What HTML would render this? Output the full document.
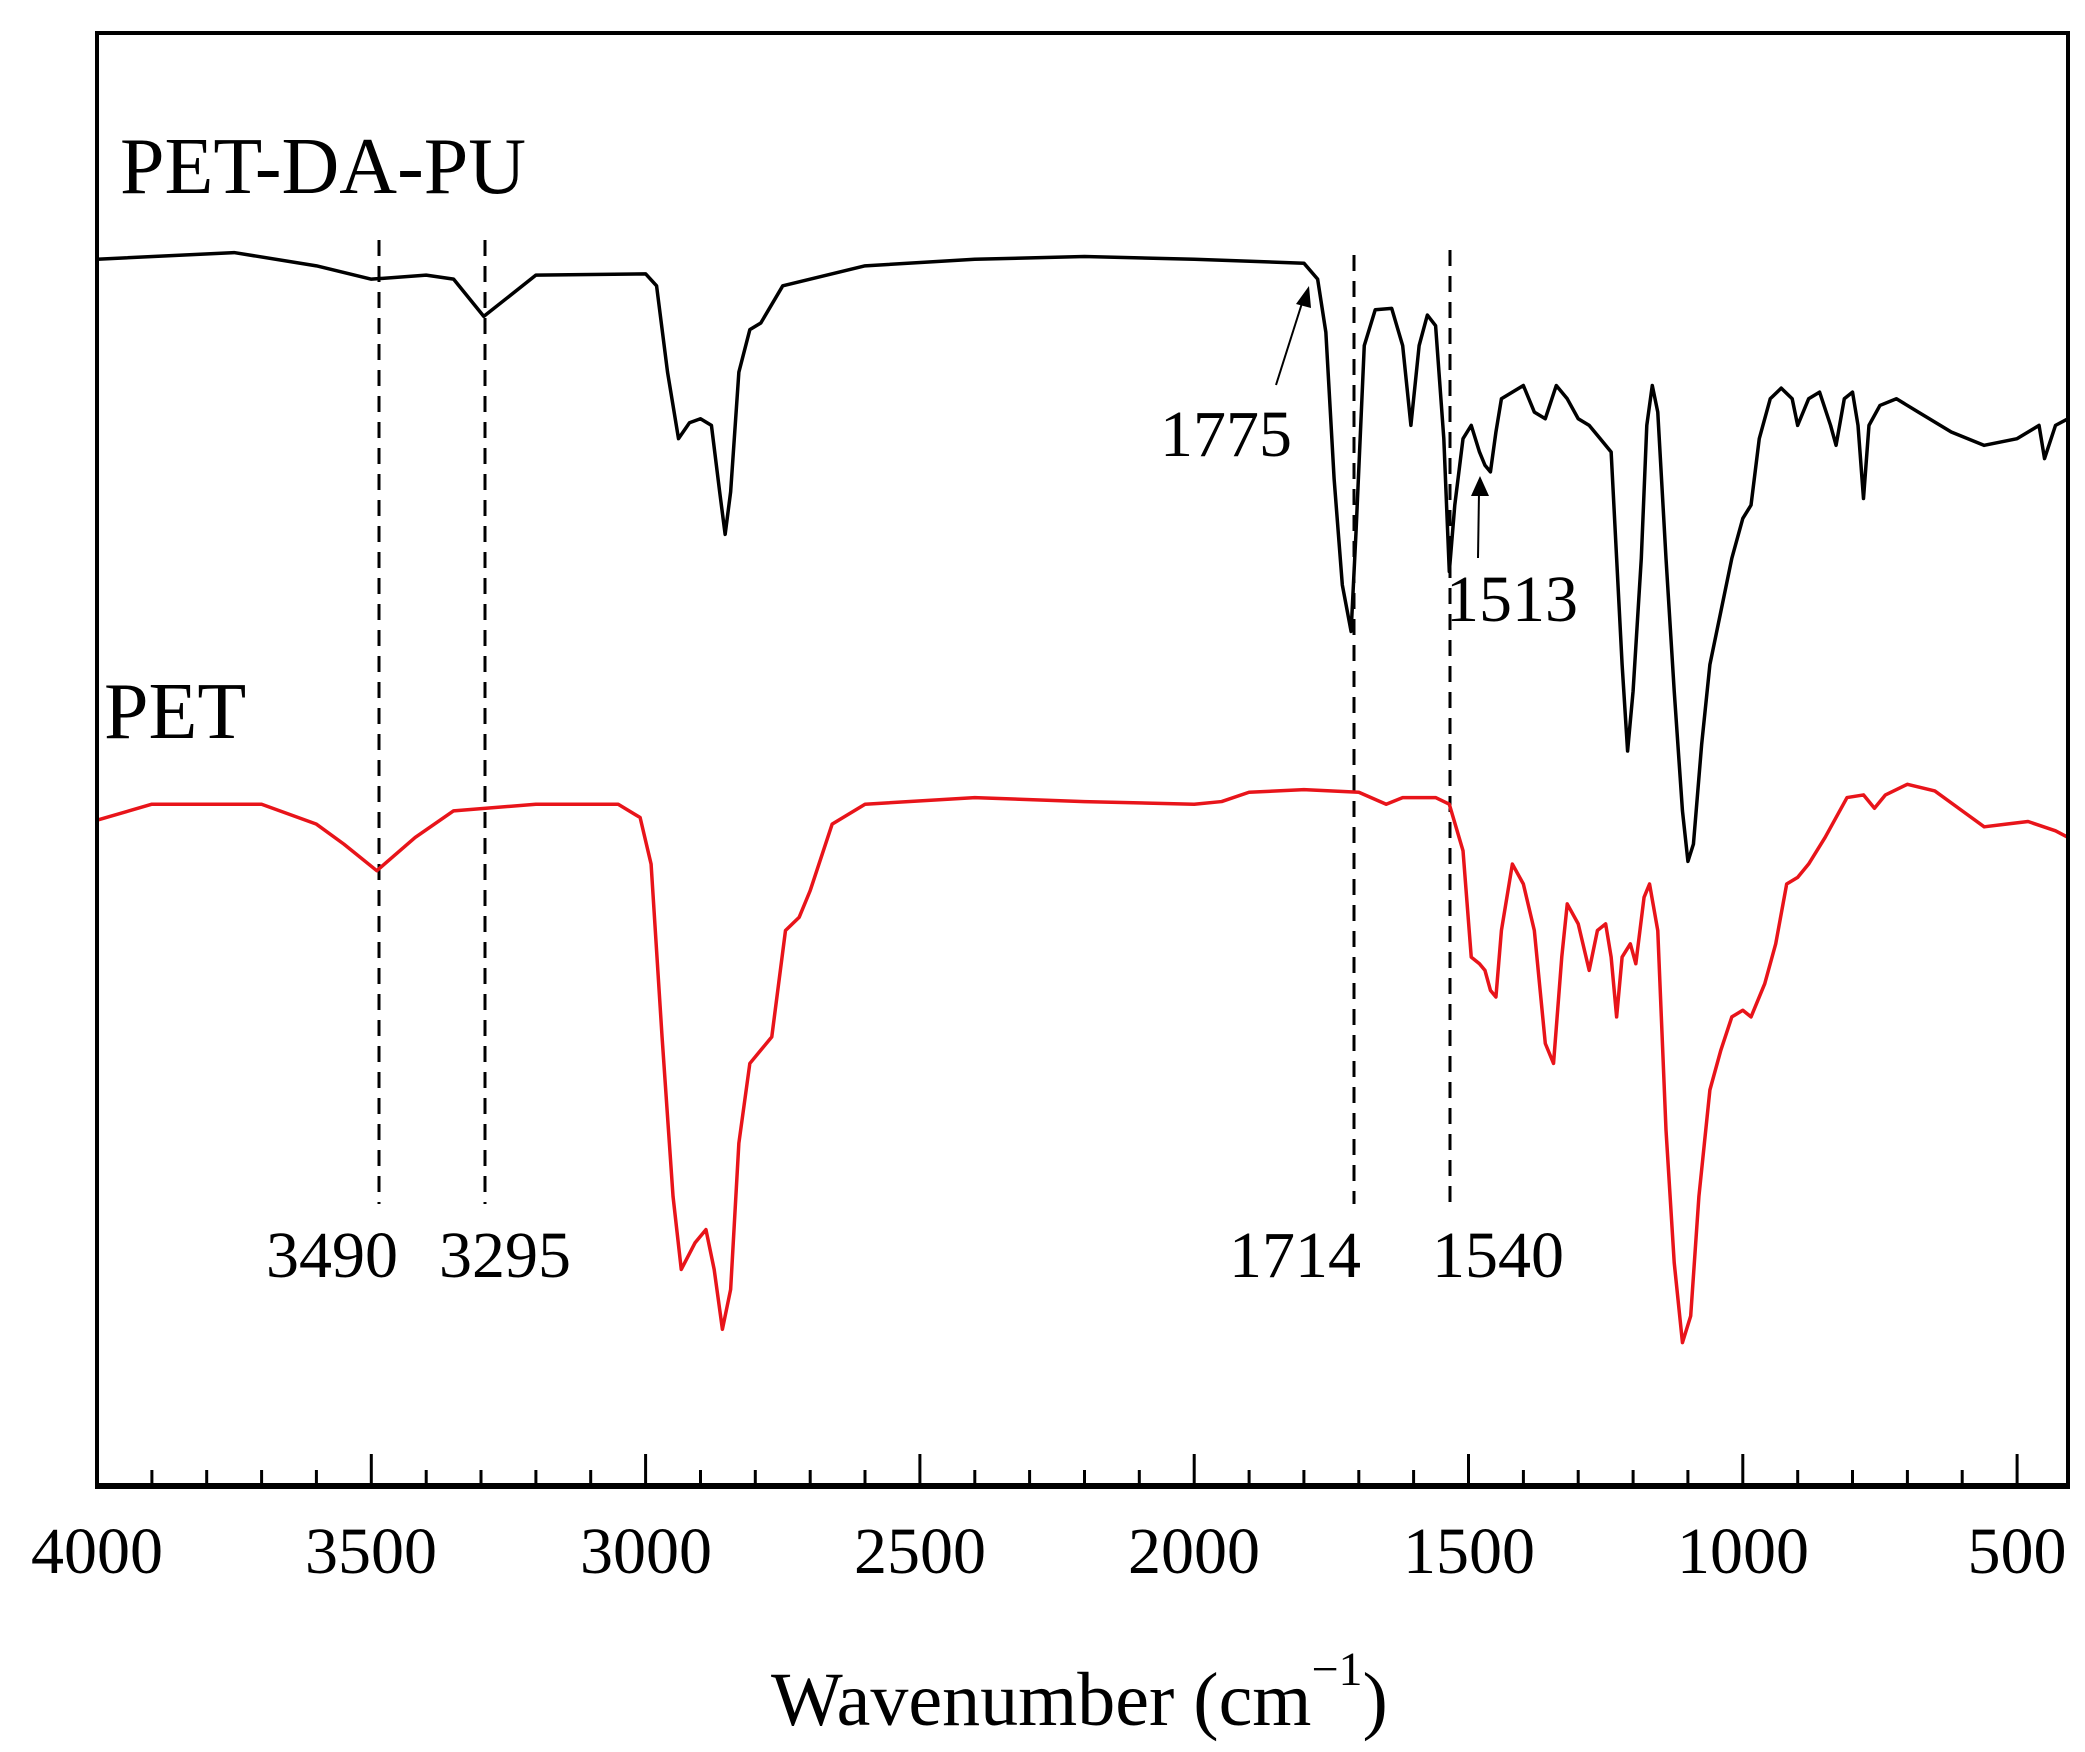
<!DOCTYPE html>
<html><head><meta charset="utf-8"><style>
html,body{margin:0;padding:0;background:#fff}
svg{display:block}
text{font-family:"Liberation Serif",serif;fill:#000}
</style></head><body>
<svg width="2085" height="1752" viewBox="0 0 2085 1752" xmlns="http://www.w3.org/2000/svg">
<rect width="2085" height="1752" fill="#fff"/>
<g stroke="#000" stroke-width="3" stroke-dasharray="16,10">
<line x1="379" y1="240" x2="379" y2="1204"/>
<line x1="485" y1="240" x2="485" y2="1204"/>
<line x1="1354" y1="255" x2="1354" y2="1204"/>
<line x1="1450" y1="250" x2="1450" y2="1204"/>
</g>
<g transform="matrix(-0.5486 0 0 1.3293 2291.4 0)" fill="none" stroke-linejoin="round">
<polyline vector-effect="non-scaling-stroke" stroke="#000" stroke-width="3.5" points="4000,195 3750,190 3600,200 3500,210 3400,207 3350,210 3295,238 3200,207 3000,206 2980,215 2960,280 2940,330 2920,318 2900,315 2880,320 2865,370 2855,402 2845,370 2830,280 2810,248 2790,243 2750,215 2600,200 2400,195 2200,193 2000,195 1800,198 1775,210 1760,250 1745,360 1730,440 1714,475 1705,400 1690,260 1670,233 1640,232 1620,260 1605,320 1590,260 1575,237 1560,245 1545,330 1535,430 1525,380 1510,330 1495,320 1480,340 1470,350 1460,355 1450,325 1440,300 1420,295 1400,290 1380,310 1360,315 1340,290 1320,300 1300,315 1280,320 1260,330 1240,340 1230,420 1220,500 1210,565 1200,520 1185,420 1175,320 1165,290 1155,310 1140,420 1125,520 1110,610 1100,648 1090,635 1075,560 1060,500 1040,460 1020,420 1000,390 985,380 970,330 950,300 930,292 910,300 900,320 880,300 860,295 840,320 830,335 815,300 800,295 790,320 780,375 770,320 750,305 720,300 680,310 620,325 560,335 500,330 460,320 450,345 430,320 407,315"/>
<polyline vector-effect="non-scaling-stroke" stroke="#e8141a" stroke-width="3.5" points="4000,617 3900,605 3700,605 3600,620 3550,635 3490,655 3420,630 3350,610 3200,605 3050,605 3010,615 2990,650 2970,780 2950,900 2935,955 2910,935 2890,925 2875,955 2860,1000 2845,970 2830,860 2810,800 2790,790 2770,780 2745,700 2720,690 2700,670 2660,620 2600,605 2400,600 2200,603 2000,605 1950,603 1900,596 1800,594 1700,596 1650,605 1620,600 1560,600 1535,605 1510,640 1495,720 1480,725 1470,730 1460,745 1450,750 1440,700 1420,650 1400,665 1380,700 1360,785 1345,800 1330,720 1320,680 1300,695 1280,730 1265,700 1250,695 1240,720 1230,765 1220,720 1205,710 1195,725 1180,675 1170,665 1155,700 1140,850 1125,950 1110,1010 1095,990 1080,900 1060,820 1040,790 1020,765 1000,760 985,765 960,740 940,710 920,665 900,660 880,650 850,630 810,600 780,598 760,608 740,598 700,590 650,595 600,610 560,622 520,620 480,618 430,625 407,630"/>
</g>
<g stroke="#000" stroke-width="2">
<line x1="1276" y1="385" x2="1303" y2="300"/>
<line x1="1478" y1="558" x2="1479" y2="492"/>
</g>
<polygon points="1309,286 1296,304 1311,308" fill="#000"/>
<polygon points="1480,476 1471,496 1489,496" fill="#000"/>
<rect x="97" y="33" width="1971" height="1453" fill="none" stroke="#000" stroke-width="4"/>
<line x1="95" y1="1486" x2="2070" y2="1486" stroke="#000" stroke-width="6"/>
<g stroke="#000" stroke-width="3">
<line x1="97" y1="1486" x2="97" y2="1454"/>
<line x1="371.3" y1="1486" x2="371.3" y2="1454"/>
<line x1="645.6" y1="1486" x2="645.6" y2="1454"/>
<line x1="919.9" y1="1486" x2="919.9" y2="1454"/>
<line x1="1194.2" y1="1486" x2="1194.2" y2="1454"/>
<line x1="1468.5" y1="1486" x2="1468.5" y2="1454"/>
<line x1="1742.8" y1="1486" x2="1742.8" y2="1454"/>
<line x1="2017.1" y1="1486" x2="2017.1" y2="1454"/>
</g>
<g stroke="#000" stroke-width="3">
<line x1="151.9" y1="1486" x2="151.9" y2="1470"/><line x1="206.7" y1="1486" x2="206.7" y2="1470"/><line x1="261.6" y1="1486" x2="261.6" y2="1470"/><line x1="316.4" y1="1486" x2="316.4" y2="1470"/>
<line x1="426.2" y1="1486" x2="426.2" y2="1470"/><line x1="481" y1="1486" x2="481" y2="1470"/><line x1="535.9" y1="1486" x2="535.9" y2="1470"/><line x1="590.7" y1="1486" x2="590.7" y2="1470"/>
<line x1="700.5" y1="1486" x2="700.5" y2="1470"/><line x1="755.3" y1="1486" x2="755.3" y2="1470"/><line x1="810.2" y1="1486" x2="810.2" y2="1470"/><line x1="865" y1="1486" x2="865" y2="1470"/>
<line x1="974.8" y1="1486" x2="974.8" y2="1470"/><line x1="1029.6" y1="1486" x2="1029.6" y2="1470"/><line x1="1084.5" y1="1486" x2="1084.5" y2="1470"/><line x1="1139.3" y1="1486" x2="1139.3" y2="1470"/>
<line x1="1249.1" y1="1486" x2="1249.1" y2="1470"/><line x1="1303.9" y1="1486" x2="1303.9" y2="1470"/><line x1="1358.8" y1="1486" x2="1358.8" y2="1470"/><line x1="1413.6" y1="1486" x2="1413.6" y2="1470"/>
<line x1="1523.4" y1="1486" x2="1523.4" y2="1470"/><line x1="1578.2" y1="1486" x2="1578.2" y2="1470"/><line x1="1633.1" y1="1486" x2="1633.1" y2="1470"/><line x1="1687.9" y1="1486" x2="1687.9" y2="1470"/>
<line x1="1797.7" y1="1486" x2="1797.7" y2="1470"/><line x1="1852.5" y1="1486" x2="1852.5" y2="1470"/><line x1="1907.4" y1="1486" x2="1907.4" y2="1470"/><line x1="1962.2" y1="1486" x2="1962.2" y2="1470"/>
</g>
<g font-size="66" text-anchor="middle">
<text x="97" y="1573">4000</text>
<text x="371" y="1573">3500</text>
<text x="646" y="1573">3000</text>
<text x="920" y="1573">2500</text>
<text x="1194" y="1573">2000</text>
<text x="1469" y="1573">1500</text>
<text x="1743" y="1573">1000</text>
<text x="2017" y="1573">500</text>
</g>
<text x="771" y="1725" font-size="76">Wavenumber (cm<tspan dy="-40" font-size="48">−1</tspan><tspan dy="40">)</tspan></text>
<text x="120" y="193" font-size="80">PET-DA-PU</text>
<text x="104" y="738" font-size="80">PET</text>
<g font-size="66">
<text x="1160" y="456">1775</text>
<text x="1446" y="621">1513</text>
<text x="266" y="1277">3490</text>
<text x="439" y="1277">3295</text>
<text x="1229" y="1277">1714</text>
<text x="1432" y="1277">1540</text>
</g>
</svg>
</body></html>
